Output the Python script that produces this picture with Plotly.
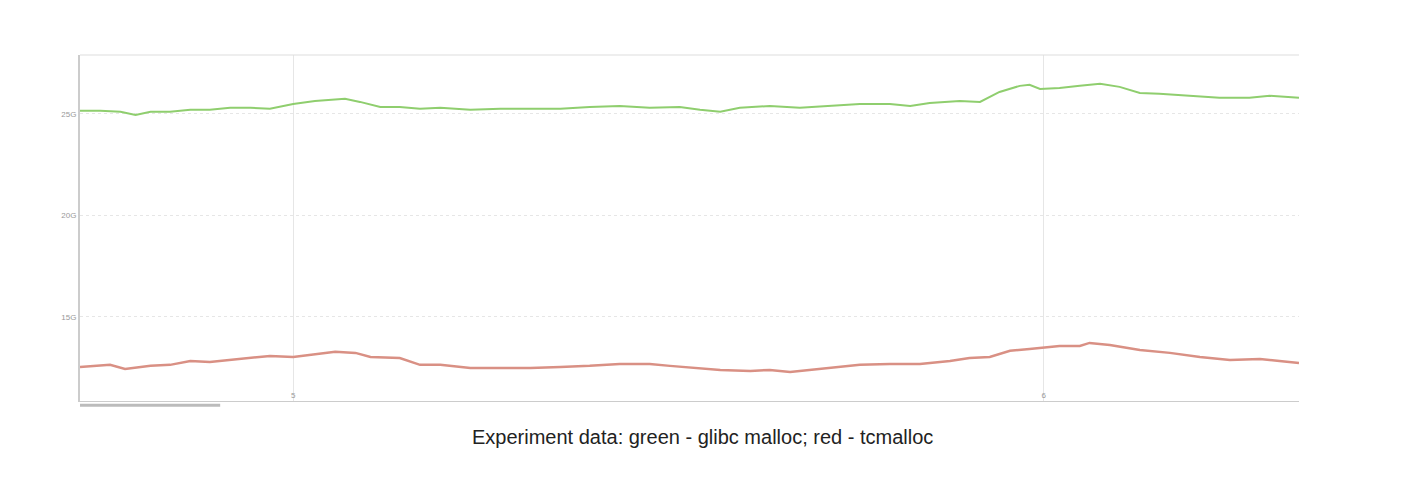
import plotly.graph_objects as go

green_x = [4.716,4.743,4.770,4.790,4.810,4.836,4.863,4.889,4.916,4.943,4.969,5.000,5.029,5.069,5.089,5.116,5.142,5.169,5.196,5.236,5.276,5.316,5.356,5.395,5.435,5.475,5.515,5.542,5.569,5.595,5.635,5.675,5.715,5.755,5.795,5.822,5.848,5.888,5.915,5.941,5.968,5.981,5.995,6.021,6.048,6.075,6.101,6.128,6.154,6.194,6.234,6.274,6.301,6.340]
green_y = [25.15,25.15,25.10,24.95,25.10,25.10,25.20,25.20,25.30,25.30,25.25,25.49,25.64,25.74,25.59,25.34,25.34,25.25,25.30,25.20,25.25,25.25,25.25,25.34,25.39,25.30,25.34,25.20,25.10,25.30,25.39,25.30,25.39,25.49,25.49,25.39,25.54,25.64,25.59,26.08,26.38,26.43,26.23,26.28,26.38,26.48,26.33,26.03,25.99,25.89,25.79,25.79,25.89,25.79]

red_x = [4.716,4.743,4.756,4.776,4.810,4.836,4.863,4.889,4.916,4.943,4.969,5.000,5.023,5.056,5.083,5.103,5.142,5.169,5.196,5.236,5.276,5.316,5.356,5.395,5.435,5.475,5.502,5.542,5.569,5.609,5.635,5.662,5.688,5.715,5.755,5.795,5.835,5.875,5.901,5.928,5.955,5.981,6.021,6.048,6.061,6.088,6.128,6.168,6.208,6.248,6.288,6.314,6.340]
red_y = [12.54,12.59,12.64,12.44,12.59,12.64,12.83,12.78,12.88,12.98,13.08,13.03,13.13,13.28,13.23,13.03,12.98,12.64,12.64,12.49,12.49,12.49,12.54,12.59,12.68,12.68,12.59,12.49,12.39,12.34,12.39,12.29,12.39,12.49,12.64,12.68,12.68,12.83,12.98,13.03,13.33,13.42,13.57,13.57,13.72,13.62,13.37,13.23,13.03,12.88,12.93,12.83,12.73]

y_ticks = [15, 20, 25]
y_labels = ["15G", "20G", "25G"]
x_ticks = [5, 6]
x_labels = ["5", "6"]
caption = "Experiment data: green - glibc malloc; red - tcmalloc"

fig = go.Figure()
fig.add_trace(go.Scatter(x=green_x, y=green_y, mode="lines", line=dict(color="#8fce6e", width=2), showlegend=False))
fig.add_trace(go.Scatter(x=red_x, y=red_y, mode="lines", line=dict(color="#d99084", width=2.5), showlegend=False))

fig.update_layout(
    width=1428, height=484, paper_bgcolor="white", plot_bgcolor="white",
    margin=dict(l=72, r=137, t=47, b=91),
    font=dict(family="Liberation Sans, Arial, sans-serif"),
    xaxis=dict(range=[4.716, 6.340], tickvals=x_ticks, ticktext=x_labels, ticklabelposition="inside",
               tickfont=dict(size=8, color="#999"), showgrid=True, gridcolor="#e6e6e6",
               zeroline=False, showline=True, linecolor="#ccc", mirror=False),
    yaxis=dict(range=[10.86, 27.9], tickvals=y_ticks, ticktext=y_labels,
               tickfont=dict(size=8, color="#999"), showgrid=True, gridcolor="#e6e6e6", griddash="dot",
               zeroline=False, showline=True, linecolor="#ccc", linewidth=2),
    shapes=[
        dict(type="line", xref="paper", yref="paper", x0=0, x1=1, y0=1, y1=1, line=dict(color="#ddd", width=1)),
        dict(type="line", xref="paper", yref="paper", x0=0, x1=0.115, y0=-0.012, y1=-0.012, line=dict(color="#bbb", width=3)),
    ],
    annotations=[dict(text=caption, xref="paper", yref="paper", x=0.511, y=-0.066, yanchor="top",
                      showarrow=False, font=dict(size=20, color="#222"))],
)
fig.write_html("out.html")
